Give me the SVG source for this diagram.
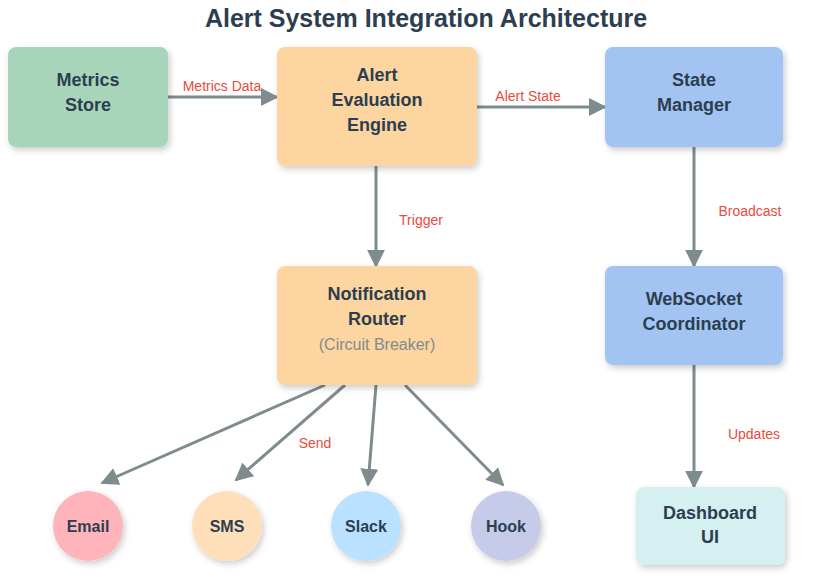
<svg xmlns="http://www.w3.org/2000/svg" width="822" height="587" viewBox="0 0 822 587">
<defs>
<filter id="sh" x="-20%" y="-20%" width="140%" height="140%"><feDropShadow dx="2" dy="3" stdDeviation="3" flood-color="#000" flood-opacity="0.2"/></filter>
<marker id="ar" markerWidth="10" markerHeight="10" refX="9" refY="5" orient="auto" markerUnits="userSpaceOnUse" viewBox="0 0 10 10"><path d="M0,0 L10,5 L0,10 z" fill="#7f8c8d"/></marker>
<marker id="ah" viewBox="0 0 10 10" refX="9" refY="5" markerWidth="18" markerHeight="18" orient="auto" markerUnits="userSpaceOnUse"><path d="M0,0 L10,5 L0,10 z" fill="#7f8c8d"/></marker>
</defs>
<style>
.n{font-family:"Liberation Sans",Arial,sans-serif;font-weight:bold;font-size:18px;fill:#2c3e50;text-anchor:middle}
.c{font-family:"Liberation Sans",Arial,sans-serif;font-weight:bold;font-size:16px;fill:#2c3e50;text-anchor:middle}
.l{font-family:"Liberation Sans",Arial,sans-serif;font-size:14px;fill:#e74c3c;text-anchor:middle}
.s{font-family:"Liberation Sans",Arial,sans-serif;font-size:16px;fill:#7f8c8d;text-anchor:middle}
.e{stroke:#7f8c8d;stroke-width:3;fill:none;marker-end:url(#ah)}
</style>
<rect width="822" height="587" fill="#fff"/>
<text x="426" y="27" font-family="Liberation Sans,Arial,sans-serif" font-weight="bold" font-size="25" fill="#2c3e50" text-anchor="middle">Alert System Integration Architecture</text>
<g id="connectors">
<line class="e" x1="168" y1="97" x2="277" y2="97"/>
<line class="e" x1="477" y1="107" x2="605" y2="107"/>
<line class="e" x1="376" y1="166" x2="376" y2="266"/>
<line class="e" x1="694" y1="147" x2="694" y2="266"/>
<line class="e" x1="694" y1="365" x2="694" y2="487"/>
<line class="e" x1="325" y1="385" x2="102" y2="483"/>
<line class="e" x1="345" y1="385" x2="236" y2="480"/>
<line class="e" x1="376" y1="385" x2="368" y2="485"/>
<line class="e" x1="405" y1="385" x2="503" y2="485"/>
<text class="l" x="222" y="91">Metrics Data</text>
<text class="l" x="528" y="101">Alert State</text>
<text class="l" x="421" y="225">Trigger</text>
<text class="l" x="750" y="216">Broadcast</text>
<text class="l" x="754" y="439">Updates</text>
<text class="l" x="315" y="448">Send</text>
</g>
<g id="metrics"><rect x="8" y="47" width="160" height="100" rx="8" fill="#a8d5ba" filter="url(#sh)"/><text class="n" x="88" y="86">Metrics</text><text class="n" x="88" y="111">Store</text></g>
<g id="engine"><rect x="277" y="47" width="200" height="119" rx="8" fill="#fdd5a0" filter="url(#sh)"/><text class="n" x="377" y="81">Alert</text><text class="n" x="377" y="106">Evaluation</text><text class="n" x="377" y="131">Engine</text></g>
<g id="state"><rect x="605" y="47" width="178" height="100" rx="8" fill="#a3c4f3" filter="url(#sh)"/><text class="n" x="694" y="86">State</text><text class="n" x="694" y="111">Manager</text></g>
<g id="router"><rect x="277" y="266" width="200" height="119" rx="8" fill="#fdd5a0" filter="url(#sh)"/><text class="n" x="377" y="300">Notification</text><text class="n" x="377" y="325">Router</text><text class="s" x="377" y="350">(Circuit Breaker)</text></g>
<g id="ws"><rect x="605" y="266" width="178" height="99" rx="8" fill="#a3c4f3" filter="url(#sh)"/><text class="n" x="694" y="305">WebSocket</text><text class="n" x="694" y="330">Coordinator</text></g>
<g id="dash"><rect x="636" y="487" width="149" height="78" rx="8" fill="#d4f0f0" filter="url(#sh)"/><text class="n" x="710" y="519">Dashboard</text><text class="n" x="710" y="543">UI</text></g>
<g id="email"><circle cx="88" cy="526" r="35" fill="#ffb3ba" filter="url(#sh)"/><text class="c" x="88" y="532">Email</text></g>
<g id="sms"><circle cx="227" cy="526" r="35" fill="#ffdfba" filter="url(#sh)"/><text class="c" x="227" y="532">SMS</text></g>
<g id="slack"><circle cx="366" cy="526" r="35" fill="#bae1ff" filter="url(#sh)"/><text class="c" x="366" y="532">Slack</text></g>
<g id="hook"><circle cx="506" cy="526" r="35" fill="#c5cbe8" filter="url(#sh)"/><text class="c" x="506" y="532">Hook</text></g>
</svg>
